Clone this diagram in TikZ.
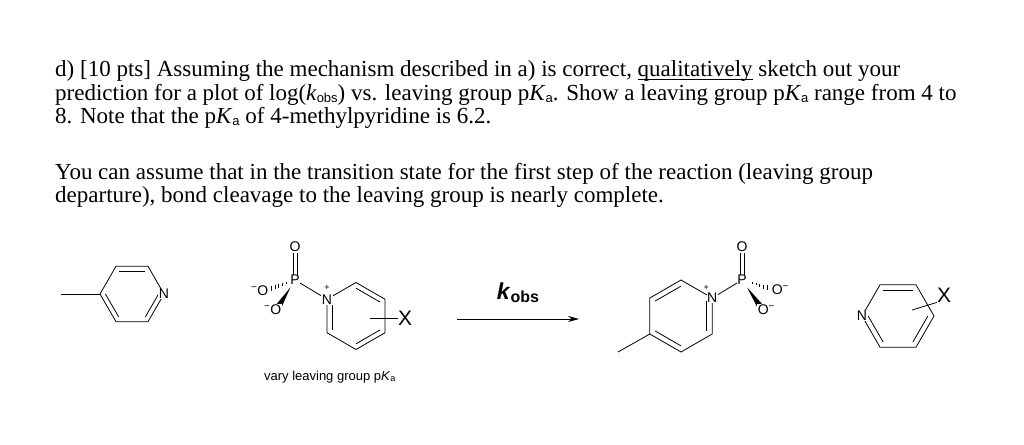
\documentclass[tikz,border=0pt]{standalone}
\usepackage{fontspec}
\setmainfont{Liberation Serif}
\setsansfont{Liberation Sans}
\usetikzlibrary{calc,arrows.meta}
\newcommand\myul[1]{\setbox0\hbox{#1}\rlap{\rule[-3pt]{\wd0}{0.9pt}}#1}
\newcommand\mysub[1]{\raisebox{-2.5pt}{\sffamily\fontsize{13}{13}\selectfont #1}}
\begin{document}
\begin{tikzpicture}[x=1pt,y=-1pt,
  txt/.style={anchor=base west,inner sep=0pt,font=\fontsize{23}{26}\selectfont},
  atom/.style={inner sep=0.6pt,fill=white,font=\sffamily\fontsize{14}{14}\selectfont},
  bond/.style={line width=0.8pt},
  lbl/.style={inner sep=0pt,font=\sffamily\fontsize{13}{13}\selectfont}]
\useasboundingbox (0,0) rectangle (1024,444);
% text
\node[txt] (l1) at (55,77) {d) [10 pts] Assuming the mechanism described in a) is correct, \myul{qualitatively} sketch out your};
\node[txt] (l2) at (55,100) {prediction for a plot of log(\textit{k}\mysub{obs}) vs. leaving group p\textit{K}\mysub{a}. Show a leaving group p\textit{K}\mysub{a} range from 4 to};
\node[txt] (l3) at (55,123) {8. Note that the p\textit{K}\mysub{a} of 4-methylpyridine is 6.2.};
\node[txt] (l4) at (55,179) {You can assume that in the transition state for the first step of the reaction (leaving group};
\node[txt] (l5) at (55,202) {departure), bond cleavage to the leaving group is nearly complete.};
% ---- molecule 1: 4-methylpyridine
\coordinate (c1) at (132,294);
\foreach \a in {0,60,120,180,240,300}{\coordinate (a\a) at ($(c1)+(-\a:32)$);}
\draw[bond] (a0)--(a60)--(a120)--(a180)--(a240)--(a300)--cycle;
\draw[bond] ($(a60)!0.17!(c1)$)--($(a120)!0.17!(c1)$);
\draw[bond] ($(a0)!0.17!(c1)$)--($(a300)!0.17!(c1)$);
\draw[bond] ($(a180)!0.17!(c1)$)--($(a240)!0.17!(c1)$);
\coordinate (m1) at (61,294);
\draw[bond] (a180)--(m1);
\node[atom] (n1) at (a0) {N};
% ---- molecule 2
\coordinate (c2) at (356,316);
\foreach \a in {90,30,-30,-90,-150,150}{\coordinate (b\a) at ($(c2)+(-\a:33.5)$);}
\draw[bond] (b90)--(b30)--(b-30)--(b-90)--(b-150)--(b150)--cycle;
\draw[bond] ($(b90)!0.17!(c2)$)--($(b30)!0.17!(c2)$);
\draw[bond] ($(b-30)!0.17!(c2)$)--($(b-90)!0.17!(c2)$);
\draw[bond] ($(b150)!0.17!(c2)$)--($(b-150)!0.17!(c2)$);
\coordinate (p2) at (295,280);
\coordinate (ot2) at (295,247);
\coordinate (ol2) at (265,291);
\coordinate (ob2) at (277,309);
\draw[bond] (b150)--(p2);
\draw[bond] ($(p2)+(-2,0)$)--($(ot2)+(-2,0)$) ($(p2)+(2,0)$)--($(ot2)+(2,0)$);
\fill ($(p2)!0.25!(ob2)$) -- ($(ob2)!3.5pt!90:(p2)$) -- ($(ob2)!3.5pt!-90:(p2)$) -- cycle;
\foreach \t in {0.3,0.42,0.54,0.66,0.78}{\draw[line width=0.7pt] ($(p2)!\t!(ol2)+(0,{-3*\t})$)--($(p2)!\t!(ol2)+(0,{3*\t})$);}
\node[atom] (P2) at (p2) {P};
\node[atom] (O2t) at (ot2) {O};
\node[atom,anchor=east] (O2l) at ($(ol2)+(4,0)$) {\textsuperscript{−}O};
\node[atom,anchor=east] (O2b) at ($(ob2)+(5,1)$) {\textsuperscript{−}O};
\node[atom] (N2) at (b150) {N};
\node[lbl,font=\sffamily\fontsize{9}{9}\selectfont] at ($(b150)+(0,-11)$) {+};
\coordinate (xs2) at (370,318);
\node[inner sep=0pt,font=\sffamily\fontsize{21}{21}\selectfont] (X2) at (405,318) {X};
\draw[bond] (xs2)--(X2.west);
\node[lbl,anchor=base] (vary) at (330,380) {vary leaving group p\textit{K}\textsubscript{a}};
% ---- arrow
\coordinate (ar1) at (457,319);
\coordinate (ar2) at (579,319);
\draw[line width=0.8pt,-{Stealth[length=11pt,width=6pt]}] (ar1)--(ar2);
\node[inner sep=0pt,font=\sffamily\bfseries] (kobs) at (518,293) {{\fontsize{23}{23}\selectfont\textit{k}}\raisebox{-3pt}{\fontsize{16}{16}\selectfont obs}};
% ---- molecule 3
\coordinate (c3) at (681,316);
\foreach \a in {90,30,-30,-90,-150,150}{\coordinate (d\a) at ($(c3)+(-\a:36)$);}
\draw[bond] (d90)--(d30)--(d-30)--(d-90)--(d-150)--(d150)--cycle;
\draw[bond] ($(d90)!0.17!(c3)$)--($(d150)!0.17!(c3)$);
\draw[bond] ($(d-150)!0.17!(c3)$)--($(d-90)!0.17!(c3)$);
\draw[bond] ($(d30)!0.17!(c3)$)--($(d-30)!0.17!(c3)$);
\coordinate (m3) at (618,352);
\draw[bond] (d-150)--(m3);
\coordinate (p3) at (742,280);
\coordinate (ot3) at (742,247);
\coordinate (or3) at (775,290);
\coordinate (ob3) at (762,309);
\draw[bond] (d30)--(p3);
\draw[bond] ($(p3)+(-2,0)$)--($(ot3)+(-2,0)$) ($(p3)+(2,0)$)--($(ot3)+(2,0)$);
\fill ($(p3)!0.25!(ob3)$) -- ($(ob3)!3.5pt!90:(p3)$) -- ($(ob3)!3.5pt!-90:(p3)$) -- cycle;
\foreach \t in {0.3,0.42,0.54,0.66,0.78}{\draw[line width=0.7pt] ($(p3)!\t!(or3)+(0,{-3*\t})$)--($(p3)!\t!(or3)+(0,{3*\t})$);}
\node[atom] (P3) at (p3) {P};
\node[atom] (O3t) at (ot3) {O};
\node[atom,anchor=west] (O3r) at ($(or3)+(-4,0)$) {O\textsuperscript{−}};
\node[atom,anchor=west] (O3b) at ($(ob3)+(-5,1)$) {O\textsuperscript{−}};
\node[atom] (N3) at (d30) {N};
\node[lbl,font=\sffamily\fontsize{9}{9}\selectfont] at ($(d30)+(-6,-10)$) {+};
% ---- molecule 4
\coordinate (c4) at (898,316);
\foreach \a in {0,60,120,180,240,300}{\coordinate (e\a) at ($(c4)+(-\a:36)$);}
\draw[bond] (e0)--(e60)--(e120)--(e180)--(e240)--(e300)--cycle;
\draw[bond] ($(e60)!0.17!(c4)$)--($(e120)!0.17!(c4)$);
\draw[bond] ($(e0)!0.17!(c4)$)--($(e300)!0.17!(c4)$);
\draw[bond] ($(e180)!0.17!(c4)$)--($(e240)!0.17!(c4)$);
\node[atom] (N4) at (e180) {N};
\coordinate (xs4) at (912,310);
\node[inner sep=0pt,font=\sffamily\fontsize{21}{21}\selectfont] (X4) at (944,295) {X};
\draw[bond] (xs4)--(X4.south west);
\end{tikzpicture}
\end{document}
